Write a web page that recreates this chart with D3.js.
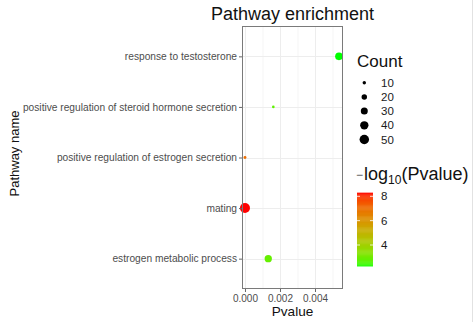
<!DOCTYPE html>
<html>
<head>
<meta charset="utf-8">
<script src="https://cdn.jsdelivr.net/npm/d3@7"></script>
<style>
  html, body { margin: 0; padding: 0; background: #fff; }
  svg { display: block; font-family: "Liberation Sans", Arial, sans-serif; }
</style>
</head>
<body>
<svg id="chart" width="474" height="322"></svg>
<script>
// ---- data ----
const categories = [
  "response to testosterone",
  "positive regulation of steroid hormone secretion",
  "positive regulation of estrogen secretion",
  "mating",
  "estrogen metabolic process"
];
const pvalues = [0.00537, 0.00162, 1e-7, 5e-9, 0.00133];
const counts = [35, 7, 8, 55, 32];
const xTickValues = [0, 0.002, 0.004];
const countBreaks = [10, 20, 30, 40, 50];
const colorBreaks = [4, 6, 8];
const titleText = "Pathway enrichment";
const xTitle = "Pvalue";
const yTitle = "Pathway name";

const rows = categories.map((c, i) => ({ name: c, p: pvalues[i], count: counts[i], lp: -Math.log10(pvalues[i]) }));

// ---- layout ----
const svg = d3.select("#chart");
const panel = { left: 242, right: 343, top: 26, bottom: 289 };

// faint frame line at right edge of image
svg.append("line").attr("x1", 472.5).attr("x2", 472.5).attr("y1", 0).attr("y2", 322)
  .attr("stroke", "#e2e2e2").attr("stroke-width", 1);

const x = d3.scaleLinear().domain([-0.00017, 0.0056]).range([panel.left, panel.right]);
const y = d3.scalePoint().domain(categories).range([panel.top, panel.bottom]).padding(0.6);

const lpExtent = d3.extent(rows, d => d.lp);
const color = d3.scaleLinear().domain(lpExtent).range(["#00FF00", "#FF0000"]).interpolate(d3.interpolateLab);
const size = d3.scalePow().exponent(0.5).domain([5, 55]).range([1, 5]);

// grid
const g = svg.append("g");
const minorX = [0.001, 0.003, 0.005];
g.selectAll(".minx").data(minorX).enter().append("line")
  .attr("x1", d => x(d) + 0.5).attr("x2", d => x(d) + 0.5)
  .attr("y1", panel.top).attr("y2", panel.bottom)
  .attr("stroke", "#f5f5f5").attr("stroke-width", 1);
g.selectAll(".majx").data(xTickValues).enter().append("line")
  .attr("x1", d => Math.round(x(d)) + 0.5).attr("x2", d => Math.round(x(d)) + 0.5)
  .attr("y1", panel.top).attr("y2", panel.bottom)
  .attr("stroke", "#ededed").attr("stroke-width", 1);
g.selectAll(".majy").data(categories).enter().append("line")
  .attr("x1", panel.left).attr("x2", panel.right)
  .attr("y1", d => Math.round(y(d)) + 0.5).attr("y2", d => Math.round(y(d)) + 0.5)
  .attr("stroke", "#ededed").attr("stroke-width", 1);

// points
svg.append("g").selectAll("circle").data(rows).enter().append("circle")
  .attr("cx", d => x(d.p))
  .attr("cy", d => y(d.name))
  .attr("r", d => size(d.count))
  .attr("fill", d => color(d.lp));

// panel border
svg.append("rect")
  .attr("x", panel.left + 0.5).attr("y", panel.top + 0.5)
  .attr("width", panel.right - panel.left - 1).attr("height", panel.bottom - panel.top - 1)
  .attr("fill", "none").attr("stroke", "#7a7a7a").attr("stroke-width", 1);

// axes
const yAxis = svg.append("g").attr("transform", `translate(${panel.left},0)`)
  .call(d3.axisLeft(y).tickSize(3).tickPadding(2));
yAxis.select(".domain").remove();
yAxis.selectAll(".tick line").attr("stroke", "#666");
yAxis.selectAll(".tick text").attr("fill", "#4d4d4d").style("font-size", "10.2px")
  .style("font-family", "'Liberation Sans', Arial, sans-serif");

const xAxis = svg.append("g").attr("transform", `translate(0,${panel.bottom})`)
  .call(d3.axisBottom(x).tickValues(xTickValues).tickFormat(d3.format(".3f")).tickSize(3).tickPadding(3));
xAxis.select(".domain").remove();
xAxis.selectAll(".tick line").attr("stroke", "#666");
xAxis.selectAll(".tick text").attr("fill", "#4d4d4d").style("font-size", "10px")
  .style("font-family", "'Liberation Sans', Arial, sans-serif");

// titles
const cx = (panel.left + panel.right) / 2;
svg.append("text").attr("x", cx).attr("y", 20).attr("text-anchor", "middle")
  .style("font-size", "18px").attr("fill", "#111").text(titleText);
svg.append("text").attr("x", cx).attr("y", 316).attr("text-anchor", "middle")
  .style("font-size", "13.6px").attr("fill", "#111").text(xTitle);
svg.append("text").attr("transform", `translate(18.5,${(panel.top + panel.bottom) / 2 - 4}) rotate(-90)`)
  .attr("text-anchor", "middle").style("font-size", "13px").attr("fill", "#111").text(yTitle);

// size legend
const lx = 357;
svg.append("text").attr("x", lx).attr("y", 67).style("font-size", "17px").attr("fill", "#111").text("Count");
const sizeLegY = d3.scalePoint().domain(countBreaks).range([82.7, 139.5]);
const sl = svg.append("g");
sl.selectAll("circle").data(countBreaks).enter().append("circle")
  .attr("cx", 364.3).attr("cy", d => sizeLegY(d)).attr("r", d => size(d)).attr("fill", "#000");
sl.selectAll("text").data(countBreaks).enter().append("text")
  .attr("x", 381).attr("y", d => sizeLegY(d)).attr("dy", "0.36em")
  .style("font-size", "11.5px").attr("fill", "#1a1a1a").text(d => d);

// colour legend title
const ct = svg.append("text").attr("x", 356).attr("y", 180).attr("fill", "#111").style("font-size", "18px");
ct.append("tspan").style("font-size", "12px").attr("fill", "#555").attr("dy", -1).text("\u2212");
ct.append("tspan").attr("dx", 1).attr("dy", 1).text("log");
ct.append("tspan").attr("dy", 4).style("font-size", "12px").text("10");
ct.append("tspan").attr("dy", -4).text("(Pvalue)");

// colour bar
const barX = 357, barW = 16;
const barY = d3.scaleLinear().domain([4, 8]).range([245, 196.3]);
const nb = 80;
const bins = d3.range(nb).map(i => lpExtent[0] + (lpExtent[1] - lpExtent[0]) * i / nb);
const step = (lpExtent[1] - lpExtent[0]) / nb;
svg.append("g").selectAll("rect").data(bins).enter().append("rect")
  .attr("x", barX).attr("width", barW)
  .attr("y", d => barY(d + step))
  .attr("height", d => barY(d) - barY(d + step) + 0.4)
  .attr("fill", d => color(d + step / 2));
const cb = svg.append("g");
colorBreaks.forEach(v => {
  cb.append("line").attr("x1", barX).attr("x2", barX + 3).attr("y1", barY(v)).attr("y2", barY(v))
    .attr("stroke", "#fff").attr("stroke-opacity", 0.8);
  cb.append("line").attr("x1", barX + barW - 3).attr("x2", barX + barW).attr("y1", barY(v)).attr("y2", barY(v))
    .attr("stroke", "#fff").attr("stroke-opacity", 0.8);
});
cb.selectAll("text").data(colorBreaks).enter().append("text")
  .attr("x", 381).attr("y", d => barY(d)).attr("dy", "0.36em")
  .style("font-size", "11.5px").attr("fill", "#1a1a1a").text(d => d);
</script>
</body>
</html>
